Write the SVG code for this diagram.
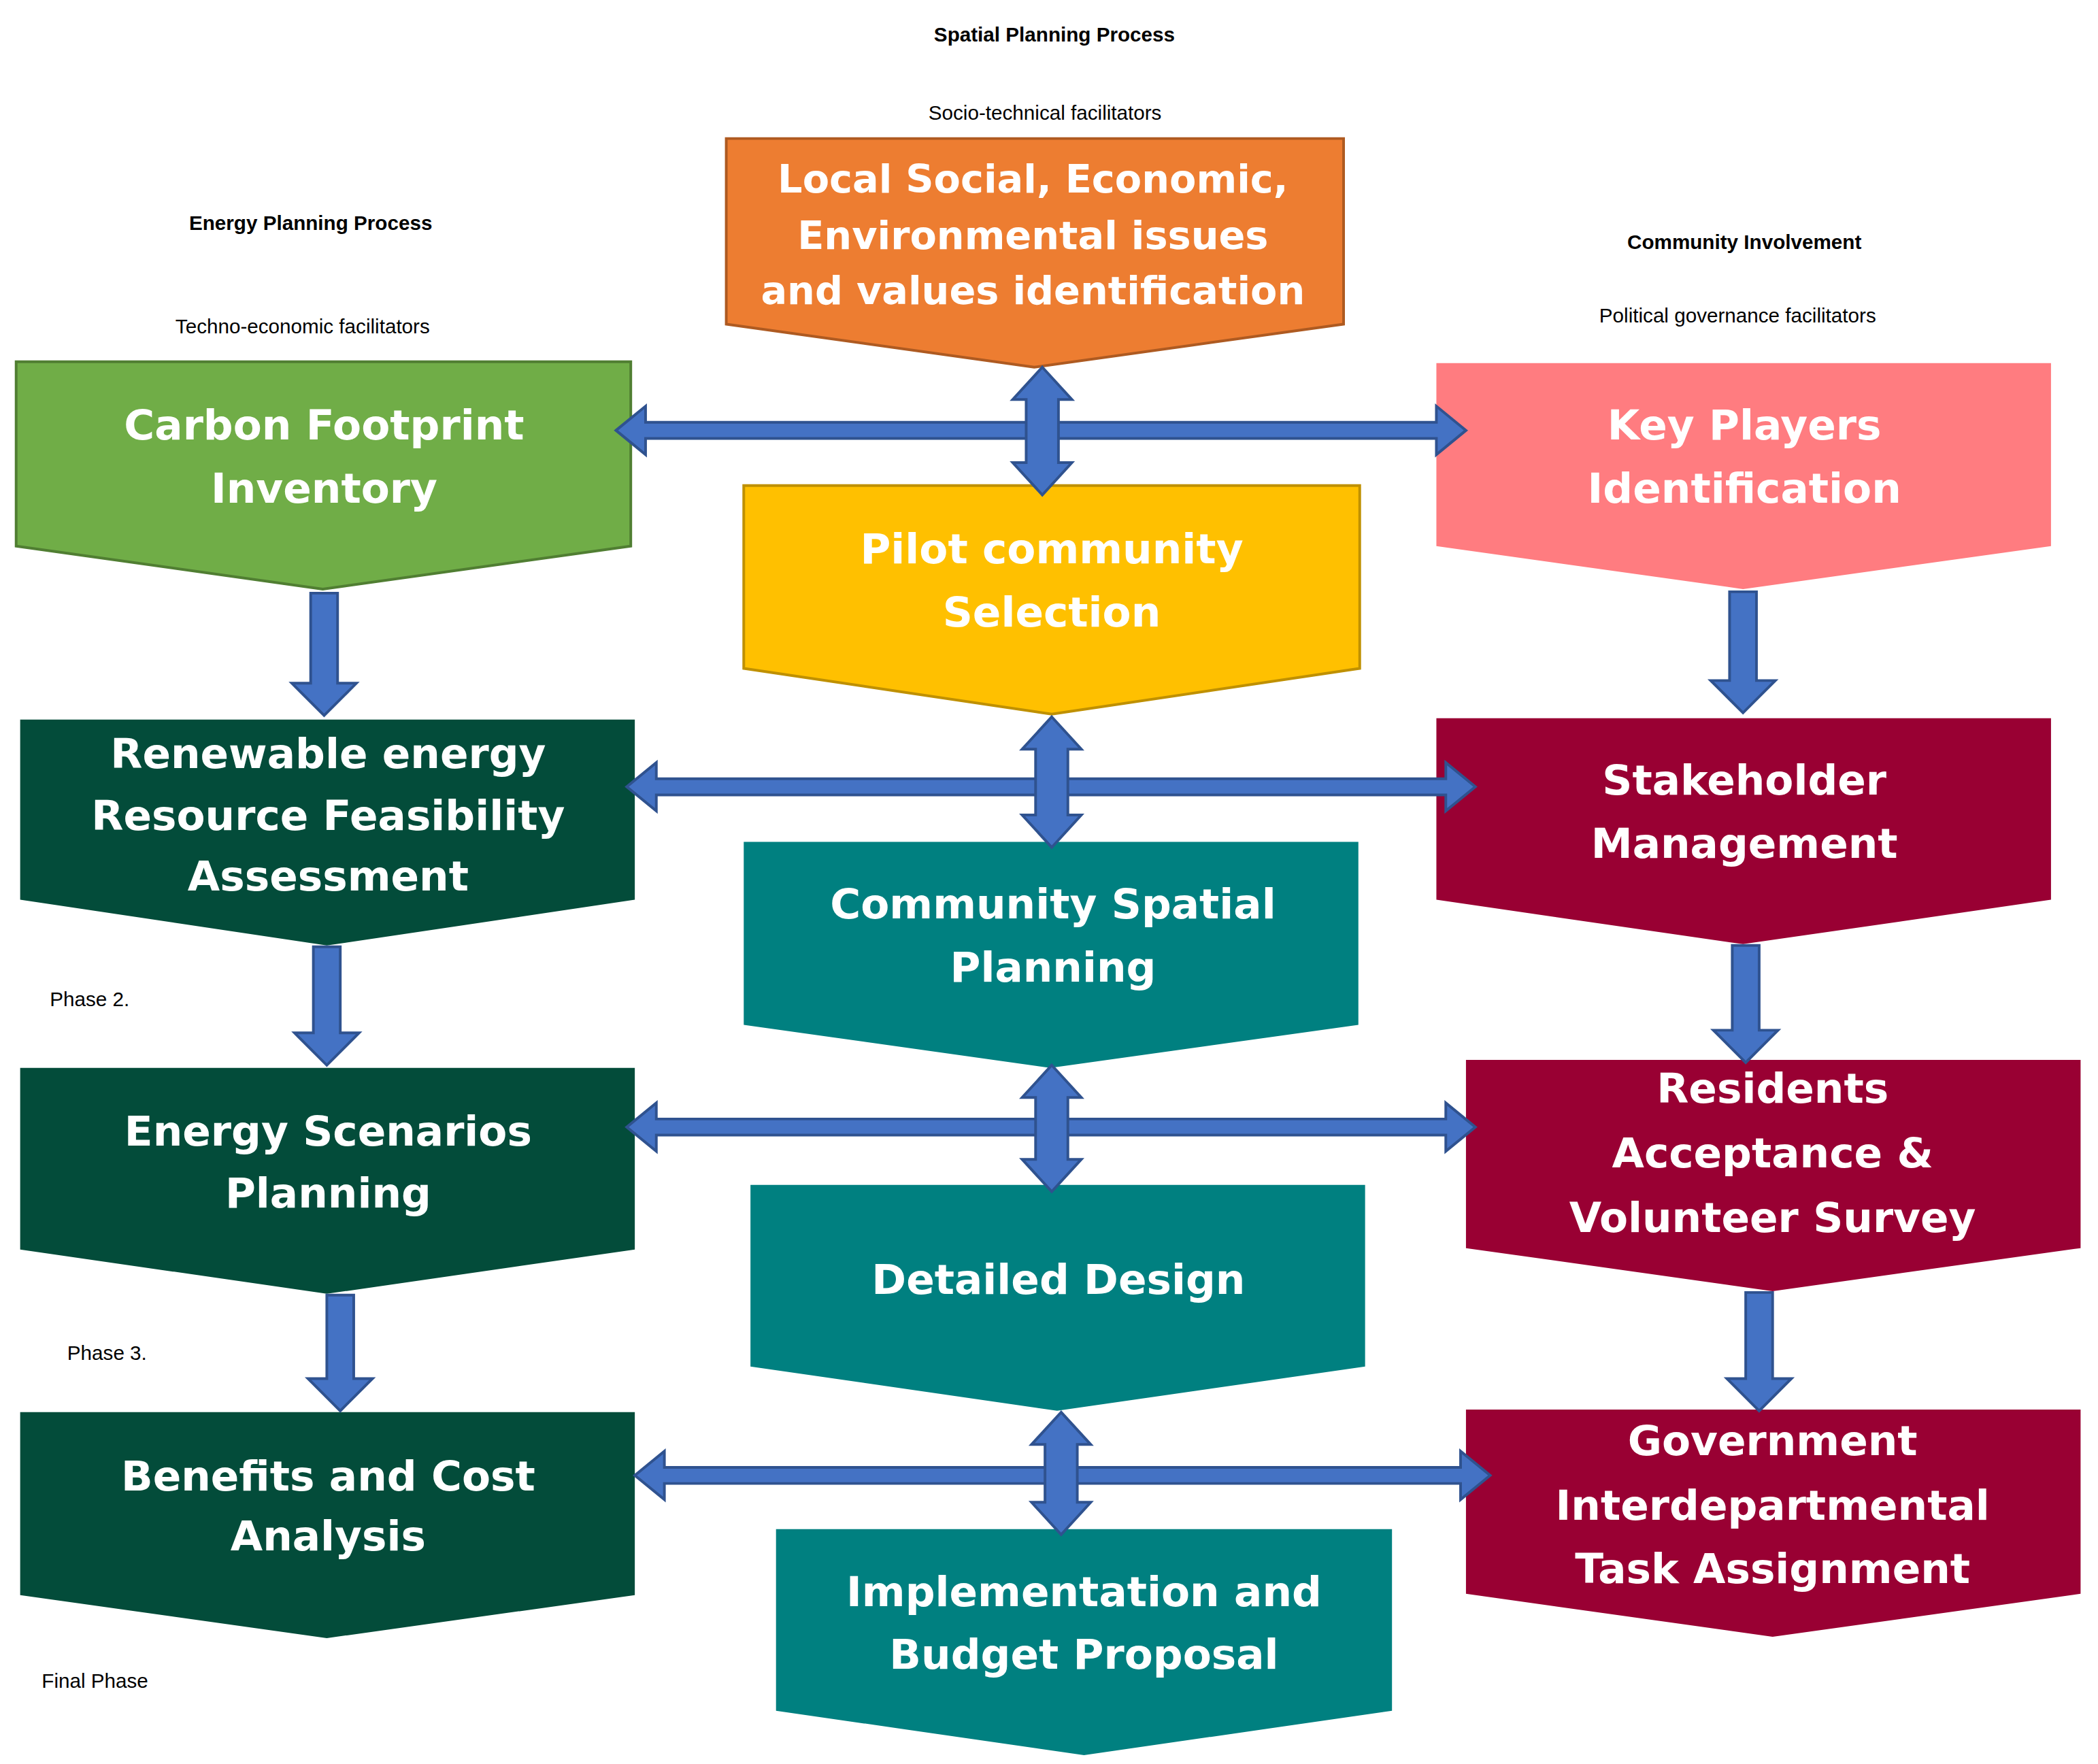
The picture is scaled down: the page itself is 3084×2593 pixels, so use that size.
<svg xmlns="http://www.w3.org/2000/svg" width="3084" height="2593" viewBox="0 0 3084 2593">
<style>
.h{font-family:"Liberation Sans",Arial,sans-serif;font-weight:bold;font-size:15px;fill:#000;text-anchor:middle}
.s{font-family:"Liberation Sans",Arial,sans-serif;font-size:15px;fill:#000;text-anchor:middle}
.p{font-family:"Liberation Sans",Arial,sans-serif;font-size:15px;fill:#000}
.n{font-family:"DejaVu Sans",sans-serif;font-weight:bold;font-size:31px;fill:#fff;text-anchor:middle}
.a{fill:#4472C4;stroke:#2F528F;stroke-width:2}
</style>
<rect width="3084" height="2593" fill="#fff"/>
<g transform="scale(1.977)">
<text class="h" x="784" y="31">Spatial Planning Process</text>
<text class="s" x="777" y="89">Socio-technical facilitators</text>
<text class="h" x="231" y="171">Energy Planning Process</text>
<text class="s" x="225" y="248">Techno-economic facilitators</text>
<text class="h" x="1297" y="185">Community Involvement</text>
<text class="s" x="1292" y="240">Political governance facilitators</text>
<text class="p" x="37" y="748">Phase 2.</text>
<text class="p" x="50" y="1011">Phase 3.</text>
<text class="p" x="31" y="1255">Final Phase</text>

<g id="n-local"><polygon points="540,103 999,103 999,241 769,273 540,241" fill="#ED7D31" stroke="#AE5A21" stroke-width="2"/>
<text class="n" style="font-size:29px" x="768" y="143">Local Social, Economic,</text><text class="n" style="font-size:29px" x="768" y="185">Environmental issues</text><text class="n" style="font-size:29px" x="768" y="226">and values identification</text></g>
<g id="n-carbon"><polygon points="12,269 469,269 469,406 240,438 12,406" fill="#70AD47" stroke="#507E32" stroke-width="2"/>
<text class="n" x="241" y="327">Carbon Footprint</text><text class="n" x="241" y="374">Inventory</text></g>
<g id="n-key"><polygon points="1068,270 1525,270 1525,406 1296,438 1068,406" fill="#FF7C80"/>
<text class="n" x="1297" y="327">Key Players</text><text class="n" x="1297" y="374">Identification</text></g>
<g id="n-pilot"><polygon points="553,361 1011,361 1011,497 782,531 553,497" fill="#FFC000" stroke="#BF9000" stroke-width="2"/>
<text class="n" x="782" y="419">Pilot community</text><text class="n" x="782" y="466">Selection</text></g>
<g id="n-renew"><polygon points="15,535 472,535 472,669 243,703 15,669" fill="#034C3A"/>
<text class="n" x="244" y="571">Renewable energy</text><text class="n" x="244" y="617">Resource Feasibility</text><text class="n" x="244" y="662">Assessment</text></g>
<g id="n-stake"><polygon points="1068,534 1525,534 1525,669 1296,702 1068,669" fill="#990033"/>
<text class="n" x="1297" y="591">Stakeholder</text><text class="n" x="1297" y="638">Management</text></g>
<g id="n-csp"><polygon points="553,626 1010,626 1010,762 781,794 553,762" fill="#008080"/>
<text class="n" x="783" y="683">Community Spatial</text><text class="n" x="783" y="730">Planning</text></g>
<g id="n-scen"><polygon points="15,794 472,794 472,929 243,962 15,929" fill="#034C3A"/>
<text class="n" x="244" y="852">Energy Scenarios</text><text class="n" x="244" y="898">Planning</text></g>
<g id="n-res"><polygon points="1090,788 1547,788 1547,928 1318,960 1090,928" fill="#990033"/>
<text class="n" x="1318" y="820">Residents</text><text class="n" x="1318" y="868">Acceptance &amp;</text><text class="n" x="1318" y="916">Volunteer Survey</text></g>
<g id="n-dd"><polygon points="558,881 1015,881 1015,1016 786,1049 558,1016" fill="#008080"/>
<text class="n" x="787" y="962">Detailed Design</text></g>
<g id="n-ben"><polygon points="15,1050 472,1050 472,1186 243,1218 15,1186" fill="#034C3A"/>
<text class="n" x="244" y="1108">Benefits and Cost</text><text class="n" x="244" y="1153">Analysis</text></g>
<g id="n-gov"><polygon points="1090,1048 1547,1048 1547,1185 1318,1217 1090,1185" fill="#990033"/>
<text class="n" x="1318" y="1082">Government</text><text class="n" x="1318" y="1130">Interdepartmental</text><text class="n" x="1318" y="1177">Task Assignment</text></g>
<g id="n-impl"><polygon points="577,1137 1035,1137 1035,1272 806,1305 577,1272" fill="#008080"/>
<text class="n" x="806" y="1194">Implementation and</text><text class="n" x="806" y="1241">Budget Proposal</text></g>

<g id="connectors">
<polygon class="a" points="231,441 251,441 251,508 265,508 241,532 217,508 231,508"/>
<polygon class="a" points="233,704 253,704 253,768 267,768 243,792 219,768 233,768"/>
<polygon class="a" points="243,963 263,963 263,1025 277,1025 253,1049 229,1025 243,1025"/>
<polygon class="a" points="1286,440 1306,440 1306,506 1320,506 1296,530 1272,506 1286,506"/>
<polygon class="a" points="1288,703 1308,703 1308,766 1322,766 1298,790 1274,766 1288,766"/>
<polygon class="a" points="1298,961 1318,961 1318,1025 1332,1025 1308,1049 1284,1025 1298,1025"/>

<polygon class="a" points="458,320 480,302 480,314 1068,314 1068,302 1090,320 1068,338 1068,326 480,326 480,338"/>
<polygon class="a" points="775,273 797,297 787,297 787,344 797,344 775,368 753,344 763,344 763,297 753,297"/>
<polygon class="a" points="466,585 488,567 488,579 1075,579 1075,567 1097,585 1075,603 1075,591 488,591 488,603"/>
<polygon class="a" points="782,533 804,557 794,557 794,606 804,606 782,630 760,606 770,606 770,557 760,557"/>
<polygon class="a" points="466,838 488,820 488,832 1075,832 1075,820 1097,838 1075,856 1075,844 488,844 488,856"/>
<polygon class="a" points="782,792 804,816 794,816 794,862 804,862 782,886 760,862 770,862 770,816 760,816"/>
<polygon class="a" points="472,1097 494,1079 494,1091 1086,1091 1086,1079 1108,1097 1086,1115 1086,1103 494,1103 494,1115"/>
<polygon class="a" points="789,1050 811,1074 801,1074 801,1117 811,1117 789,1141 767,1117 777,1117 777,1074 767,1074"/>
</g>
</g>
</svg>
